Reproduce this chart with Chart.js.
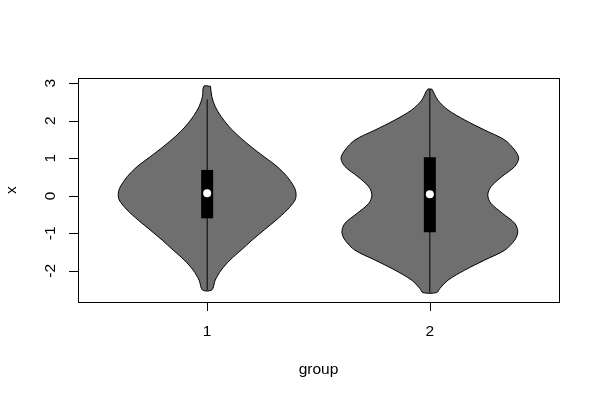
<!DOCTYPE html>
<html>
<head>
<meta charset="utf-8">
<script src="https://cdn.jsdelivr.net/npm/chart.js@4"></script>
<style>
  html, body { margin: 0; padding: 0; background: #fff; }
  canvas { display: block; }
</style>
</head>
<body>
<canvas id="c" width="600" height="400"></canvas>
<script>
// ---- data ----
const categories = ["1", "2"];
const yTicks = [-2, -1, 0, 1, 2, 3];

// violin 1: density outline (y level, half-width in x units)
const levels1 = [2.92, 2.64, 2.38, 2.11, 1.84, 1.58, 1.31, 1.04, 0.78, 0.51, 0.24, 0.07, -0.11, -0.38, -0.65, -0.91, -1.18, -1.45, -1.71, -1.98, -2.25, -2.51];
const widths1 = [0.015, 0.021, 0.036, 0.063, 0.099, 0.143, 0.197, 0.256, 0.314, 0.359, 0.390, 0.399, 0.395, 0.359, 0.309, 0.256, 0.202, 0.152, 0.103, 0.063, 0.036, 0.021];
// violin 2
const levels2 = [2.84, 2.55, 2.29, 2.02, 1.75, 1.49, 1.22, 1.00, 0.78, 0.51, 0.24, 0.02, -0.20, -0.47, -0.73, -0.96, -1.18, -1.45, -1.71, -1.98, -2.25, -2.47, -2.58];
const widths2 = [0.010, 0.036, 0.081, 0.157, 0.247, 0.336, 0.381, 0.399, 0.381, 0.323, 0.274, 0.260, 0.274, 0.327, 0.381, 0.395, 0.381, 0.336, 0.247, 0.157, 0.081, 0.045, 0.031];

// box summaries per group
const q1Values = [-0.60, -0.97];
const q3Values = [0.69, 1.03];
const medians = [0.07, 0.04];
const whiskerLow = [-2.51, -2.58];
const whiskerHigh = [2.57, 2.84];

// axis ranges
const xMin = 0.42, xMax = 2.58;
const yMin = -2.83, yMax = 3.14;

function outline(center, levels, widths) {
  const pts = [];
  for (let i = 0; i < levels.length; i++) pts.push({x: center + widths[i], y: levels[i]});
  for (let i = levels.length - 1; i >= 0; i--) pts.push({x: center - widths[i], y: levels[i]});
  pts.push({x: center + widths[0], y: levels[0]});
  return pts;
}

const violinLevels = [levels1, levels2];
const violinWidths = [widths1, widths2];
const datasets = [];
categories.forEach((cat, i) => {
  const c = i + 1;
  datasets.push({
    label: 'violin ' + cat,
    data: outline(c, violinLevels[i], violinWidths[i]),
    showLine: true, fill: 'shape',
    backgroundColor: '#6f6f6f', borderColor: '#000', borderWidth: 1,
    pointRadius: 0, tension: 0.3, order: 4
  });
  datasets.push({
    label: 'whisker ' + cat,
    data: [{x: c, y: whiskerLow[i]}, {x: c, y: whiskerHigh[i]}],
    showLine: true, borderColor: '#000', borderWidth: 1, pointRadius: 0, order: 3
  });
  datasets.push({
    label: 'box ' + cat,
    data: [{x: c, y: q1Values[i]}, {x: c, y: q3Values[i]}],
    showLine: true, borderColor: '#000', borderWidth: 12, borderCapStyle: 'butt',
    pointRadius: 0, order: 2
  });
  datasets.push({
    label: 'median ' + cat,
    data: [{x: c, y: medians[i]}],
    showLine: false, pointRadius: 4, pointBackgroundColor: '#fff',
    pointBorderWidth: 0, pointBorderColor: '#fff', order: 1
  });
});

const FONT = '15.5px "Liberation Sans", Arial, Helvetica, sans-serif';

const axesPlugin = {
  id: 'rAxes',
  afterDraw(chart) {
    const ctx = chart.ctx;
    const a = chart.chartArea;
    const xs = chart.scales.x, ys = chart.scales.y;
    ctx.save();
    ctx.strokeStyle = '#000';
    ctx.lineWidth = 1;
    ctx.strokeRect(Math.round(a.left) + 0.5, Math.round(a.top) + 0.5,
                   Math.round(a.right - a.left), Math.round(a.bottom - a.top));
    ctx.fillStyle = '#000';
    ctx.font = FONT;
    // y ticks
    ctx.beginPath();
    yTicks.forEach(v => {
      const py = Math.round(ys.getPixelForValue(v)) + 0.5;
      ctx.moveTo(a.left - 9, py); ctx.lineTo(a.left, py);
    });
    ctx.stroke();
    ctx.textAlign = 'center'; ctx.textBaseline = 'alphabetic';
    yTicks.forEach(v => {
      const py = ys.getPixelForValue(v);
      ctx.save();
      ctx.translate(55, py);
      ctx.rotate(-Math.PI / 2);
      ctx.fillText(String(v), 0, 0);
      ctx.restore();
    });
    // x ticks
    ctx.beginPath();
    categories.forEach((cat, i) => {
      const px = Math.round(xs.getPixelForValue(i + 1)) + 0.5;
      ctx.moveTo(px, a.bottom); ctx.lineTo(px, a.bottom + 9);
    });
    ctx.stroke();
    categories.forEach((cat, i) => {
      const px = xs.getPixelForValue(i + 1);
      ctx.fillText(cat, px, 336);
    });
    // axis titles
    ctx.fillText('group', (a.left + a.right) / 2, 374);
    ctx.save();
    ctx.translate(16, (a.top + a.bottom) / 2);
    ctx.rotate(-Math.PI / 2);
    ctx.fillText('x', 0, 0);
    ctx.restore();
    ctx.restore();
  }
};

new Chart(document.getElementById('c'), {
  type: 'scatter',
  data: { datasets },
  options: {
    responsive: false,
    animation: false,
    devicePixelRatio: 1,
    layout: { padding: { left: 78, right: 41, top: 78, bottom: 98 } },
    plugins: { legend: { display: false }, tooltip: { enabled: false } },
    scales: {
      x: { type: 'linear', min: xMin, max: xMax, display: false },
      y: { type: 'linear', min: yMin, max: yMax, display: false }
    }
  },
  plugins: [axesPlugin]
});
</script>
</body>
</html>
